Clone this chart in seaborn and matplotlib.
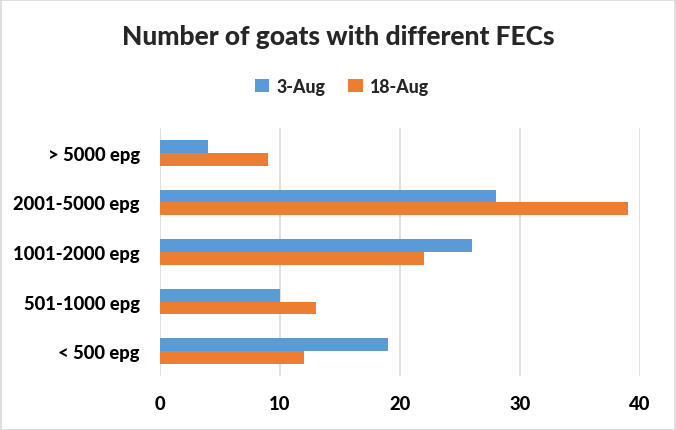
import matplotlib
matplotlib.use("Agg")
import matplotlib.pyplot as plt
import seaborn as sns
import pandas as pd
from matplotlib.patches import Rectangle

categories = ["> 5000 epg", "2001-5000 epg", "1001-2000 epg", "501-1000 epg", "< 500 epg"]
series_names = ["3-Aug", "18-Aug"]
aug3 = [4, 28, 26, 10, 19]
aug18 = [9, 39, 22, 13, 12]
xticks = [0, 10, 20, 30, 40]
title = "Number of goats with different FECs"

df = pd.DataFrame({
    "cat": categories * 2,
    "series": [series_names[0]] * len(categories) + [series_names[1]] * len(categories),
    "value": aug3 + aug18,
})

sns.set_theme(style="white")
plt.rcParams["font.family"] = ["Lato", "DejaVu Sans"]
W = 900
plt.rcParams["font.weight"] = W

fig = plt.figure(figsize=(6.76, 4.31), dpi=100)
ax = fig.add_axes([160/676, 1 - 377/431, 480/676, 248/431])

sns.barplot(data=df, y="cat", x="value", hue="series", order=categories,
            hue_order=series_names, palette=["#5B9BD5", "#ED7D31"],
            orient="h", width=0.52, ax=ax, saturation=1, legend=True,
            linewidth=0, edgecolor="none")

ax.set_xlim(0, 40)
ax.set_xticks(xticks)
ax.xaxis.grid(True, color="#D9D9D9", linewidth=1.2)
ax.set_axisbelow(True)
for s in ax.spines.values():
    s.set_visible(False)
ax.set_xlabel("")
ax.set_ylabel("")
ax.tick_params(axis="both", length=0, labelsize=13.2, colors="black")
ax.tick_params(axis="x", pad=14)
ax.tick_params(axis="y", pad=14.5)
for lab in ax.get_xticklabels() + ax.get_yticklabels():
    lab.set_fontweight(W)

handles, labels = ax.get_legend_handles_labels()
ax.legend_.remove()
fig.legend(handles, labels, loc="center", bbox_to_anchor=(342/676, 1 - 87/431),
           ncol=2, frameon=False, handlelength=0.8, handleheight=0.8,
           handletextpad=0.4, columnspacing=1.3,
           prop={"weight": W, "size": 12.8})

fig.text(338/676, 1 - 37/431, title, ha="center", va="center",
         fontsize=19, fontweight=W)

fig.patches.append(Rectangle((0.5/676, 0.5/431), 1 - 1.5/676, 1 - 1.5/431,
                             transform=fig.transFigure, fill=False,
                             edgecolor="#D9D9D9", linewidth=1.2))

fig.savefig("out.png", dpi=100)
